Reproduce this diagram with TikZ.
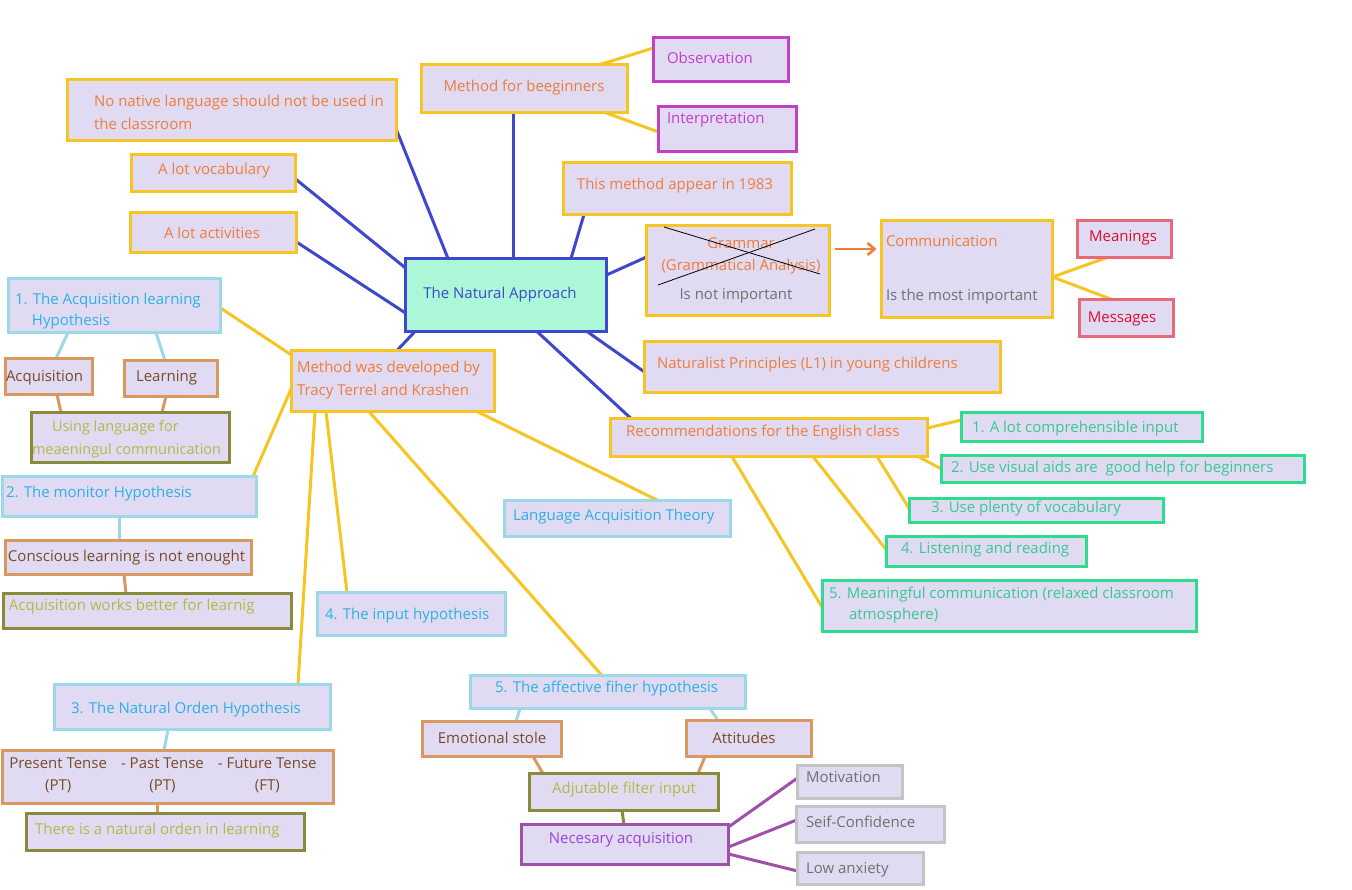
\documentclass[tikz,border=0pt]{standalone}
\usepackage{fontspec}
\setmainfont{Open Sans}
\usetikzlibrary{arrows.meta}
\definecolor{lav}{HTML}{E0DBF2}
\definecolor{yel}{HTML}{F7C523}
\definecolor{ora}{HTML}{F07C3A}
\definecolor{mag}{HTML}{C23FC6}
\definecolor{magt}{HTML}{C83CC8}
\definecolor{redb}{HTML}{E86A78}
\definecolor{redt}{HTML}{D8102C}
\definecolor{grb}{HTML}{2EDC8E}
\definecolor{grt}{HTML}{38C896}
\definecolor{lbb}{HTML}{9DD8E8}
\definecolor{lbt}{HTML}{2DB0E8}
\definecolor{tanb}{HTML}{D89860}
\definecolor{brt}{HTML}{7A4A28}
\definecolor{olb}{HTML}{8A8A3A}
\definecolor{olt}{HTML}{B4B846}
\definecolor{pub}{HTML}{A050A8}
\definecolor{put}{HTML}{A040D8}
\definecolor{gyb}{HTML}{C4C4C4}
\definecolor{gyt}{HTML}{707070}
\definecolor{blu}{HTML}{3F48CC}
\definecolor{mint}{HTML}{ABF7D8}
\pgfdeclarelayer{bg}
\pgfsetlayers{bg,main}
\newcommand\mkbox[6]{\node[bx,#6,minimum width={(#4-#2-3)*1pt},minimum height={(#5-#3-3)*1pt}] (#1) at ({(#2+#4)/2},{(#3+#5)/2}) {};}
\tikzset{
  bx/.style={rectangle, draw, line width=3pt, fill=lav, inner sep=0pt, outer sep=0pt},
  ybx/.style={draw=yel}, mbx/.style={draw=mag}, rbx/.style={draw=redb},
  gbx/.style={draw=grb}, lbx/.style={draw=lbb}, tbx/.style={draw=tanb},
  obx/.style={draw=olb}, pbx/.style={draw=pub}, gybx/.style={draw=gyb},
  cbx/.style={draw=blu, fill=mint},
  tx/.style={inner sep=0pt, outer sep=0pt, font=\fontsize{15}{22.5}\selectfont},
  sl/.style={text height=0.9em, text depth=0pt},
  ln/.style={line width=3pt},
}
\begin{document}
\begin{tikzpicture}[x=1pt,y=-1pt]
\useasboundingbox (0,0) rectangle (1352,889);
\begin{pgfonlayer}{bg}
\fill[white] (0,0) rectangle (1352,889);
\end{pgfonlayer}
% boxes
\mkbox{nn}{66}{78}{398}{142}{ybx}
\mkbox{voc}{130}{153}{297}{193}{ybx}
\mkbox{act}{129}{211}{298}{254}{ybx}
\mkbox{mb}{420}{63}{629}{114}{ybx}
\mkbox{obs}{652}{36}{790}{83}{mbx}
\mkbox{int}{657}{105}{798}{153}{mbx}
\mkbox{this}{562}{161}{793}{216}{ybx}
\mkbox{gram}{645}{224}{831}{317}{ybx}
\mkbox{comm}{880}{219}{1054}{319}{ybx}
\mkbox{mean}{1076}{219}{1173}{259}{rbx}
\mkbox{mess}{1078}{298}{1175}{338}{rbx}
\mkbox{cen}{404}{257}{608}{333}{cbx}
\mkbox{nat}{643}{340}{1002}{394}{ybx}
\mkbox{rec}{609}{417}{929}{458}{ybx}
\mkbox{g1}{960}{411}{1204}{443}{gbx}
\mkbox{g2}{940}{454}{1306}{484}{gbx}
\mkbox{g3}{908}{497}{1165}{524}{gbx}
\mkbox{g4}{885}{535}{1088}{568}{gbx}
\mkbox{g5}{821}{579}{1198}{633}{gbx}
\mkbox{lat}{503}{499}{732}{538}{lbx}
\mkbox{dev}{290}{349}{496}{413}{ybx}
\mkbox{acq1}{7}{277}{222}{334}{lbx}
\mkbox{acqn}{4}{357}{94}{396}{tbx}
\mkbox{lrn}{123}{359}{219}{398}{tbx}
\mkbox{use}{30}{411}{231}{464}{obx}
\mkbox{mon}{1}{475}{258}{518}{lbx}
\mkbox{cons}{4}{539}{253}{576}{tbx}
\mkbox{work}{2}{592}{293}{630}{obx}
\mkbox{inp}{316}{591}{507}{637}{lbx}
\mkbox{ord}{53}{683}{332}{731}{lbx}
\mkbox{pres}{1}{749}{335}{805}{tbx}
\mkbox{there}{25}{812}{306}{852}{obx}
\mkbox{aff}{469}{674}{747}{710}{lbx}
\mkbox{emo}{421}{720}{563}{758}{tbx}
\mkbox{att}{685}{719}{813}{758}{tbx}
\mkbox{adj}{528}{772}{720}{812}{obx}
\mkbox{nec}{520}{823}{730}{866}{pbx}
\mkbox{mot}{796}{764}{904}{800}{gybx}
\mkbox{seif}{795}{805}{946}{844}{gybx}
\mkbox{low}{796}{851}{925}{886}{gybx}
% texts
\node[tx,text=ora,anchor=north west,align=left] (tnn) at (94,95.5) {No native language should not be used in\\the classroom};
\node[tx,sl,text=ora] (tvoc) at (214,170) {A lot vocabulary};
\node[tx,sl,text=ora] (tact) at (212,234) {A lot activities};
\node[tx,sl,text=ora] (tmb) at (524,87) {Method for beeginners};
\node[tx,sl,text=ora] (tthis) at (675,185) {This method appear in 1983};
\node[tx,text=ora,anchor=north,align=center] (tgram) at (741,237.5) {Grammar\\(Grammatical Analysis)};
\node[tx,sl,text=gyt] (tgram2) at (736,295) {Is not important};
\node[tx,sl,text=ora,anchor=west] (tcomm) at (886,242) {Communication};
\node[tx,sl,text=gyt,anchor=west] (tcomm2) at (886,296) {Is the most important};
\node[tx,sl,text=ora,anchor=west] (tnat) at (657,364) {Naturalist Principles (L1) in young childrens};
\node[tx,sl,text=ora,anchor=west] (trec) at (626,432) {Recommendations for the English class};
\node[tx,text=ora,anchor=north west,align=left] (tdev) at (297,361.5) {Method was developed by\\Tracy Terrel and Krashen};
\node[tx,sl,text=magt,anchor=west] (tobs) at (667,59) {Observation};
\node[tx,sl,text=magt,anchor=west] (tint) at (667,119) {Interpretation};
\node[tx,sl,text=redt] (tmean) at (1123,237) {Meanings};
\node[tx,sl,text=redt] (tmess) at (1122,318) {Messages};
\node[tx,sl,text=blu] (tcen) at (500,294) {The Natural Approach};
\node[tx,sl,text=grt,anchor=west] (tg1) at (972,428) {1. A lot comprehensible input};
\node[tx,sl,text=grt,anchor=west] (tg2) at (951,468) {2. Use visual aids are~ good help for beginners};
\node[tx,sl,text=grt,anchor=west] (tg3) at (931,508) {3. Use plenty of vocabulary};
\node[tx,sl,text=grt,anchor=west] (tg4) at (901,549) {4. Listening and reading};
\node[tx,text=grt,anchor=north west,align=left,font=\fontsize{15}{21}\selectfont] (tg5) at (829,587.5) {5. Meaningful communication (relaxed classroom\\\hspace*{20pt}atmosphere)};
\node[tx,text=lbt,anchor=north west,align=left,font=\fontsize{15}{21}\selectfont] (tacq1) at (15,293.5) {1. The Acquisition learning\\\hspace*{17pt}Hypothesis};
\node[tx,sl,text=lbt,anchor=west] (tmon) at (6,493) {2. The monitor Hypothesis};
\node[tx,sl,text=lbt,anchor=west] (tinp) at (325,615) {4. The input hypothesis};
\node[tx,sl,text=lbt,anchor=west] (tlat) at (513,516) {Language Acquisition Theory};
\node[tx,sl,text=lbt,anchor=west] (tord) at (71,709) {3. The Natural Orden Hypothesis};
\node[tx,sl,text=lbt,anchor=west] (taff) at (495,688) {5. The affective fiher hypothesis};
\node[tx,sl,text=brt,anchor=west] (tacqn) at (6,377) {Acquisition};
\node[tx,sl,text=brt,anchor=west] (tlrn) at (136,377) {Learning};
\node[tx,sl,text=brt,anchor=west] (tcons) at (8,557) {Conscious learning is not enought};
\node[tx,text=brt] (tpres) at (163,775) {\begin{tabular}{@{}c@{\hspace{14pt}}c@{\hspace{14pt}}c@{}}Present Tense & - Past Tense & - Future Tense\\(PT) & (PT) & (FT)\end{tabular}};
\node[tx,sl,text=brt] (temo) at (492,739) {Emotional stole};
\node[tx,sl,text=brt] (tatt) at (744,739) {Attitudes};
\node[tx,text=olt,anchor=north west,align=left,font=\fontsize{14.5}{22.5}\selectfont] (tuse) at (32,420.5) {\hspace*{20pt}Using language for\\meaeningul communication};
\node[tx,sl,text=olt,anchor=west] (twork) at (9,606) {Acquisition works better for learnig};
\node[tx,sl,text=olt,anchor=west] (tthere) at (35,830) {There is a natural orden in learning};
\node[tx,sl,text=olt] (tadj) at (624,789) {Adjutable filter input};
\node[tx,sl,text=put] (tnec) at (621,839) {Necesary acquisition};
\node[tx,sl,text=gyt,anchor=west] (tmot) at (806,778) {Motivation};
\node[tx,sl,text=gyt,anchor=west] (tseif) at (806,823) {Seif-Confidence};
\node[tx,sl,text=gyt,anchor=west] (tlow) at (806,869) {Low anxiety};
% strike-through
\draw[black, line width=0.8pt] (664,227) -- (820,274);
\draw[black, line width=0.8pt] (815,229) -- (658,285);
% arrow
\draw[ora, line width=2.5pt, -{Straight Barb[length=7pt,width=12pt]}, shorten <=5pt, shorten >=5pt] (gram.east |- 0,249) -- (comm.west |- 0,249);
% connectors
\begin{pgfonlayer}{bg}
\begin{scope}[ln, blu]
\draw (448,0 |- cen.north) -- (nn.east |- 0,130);
\draw (cen.west |- 0,268) -- (voc.east |- 0,179);
\draw (cen.west |- 0,313) -- (act.east |- 0,242);
\draw (513,0 |- cen.north) -- (513,0 |- mb.south);
\draw (571,0 |- cen.north) -- (584,0 |- this.south);
\draw (cen.east |- 0,275) -- (gram.west |- 0,257);
\draw (587,0 |- cen.south) -- (nat.west |- 0,372);
\draw (537,0 |- cen.south) -- (631,0 |- rec.north);
\draw (415,0 |- cen.south) -- (397,0 |- dev.north);
\end{scope}
\begin{scope}[ln, yel]
\draw (600,0 |- mb.north) -- (obs.west |- 0,48);
\draw (605,0 |- mb.south) -- (int.west |- 0,132);
\draw (comm.east |- 0,277) -- (1107,0 |- mean.south);
\draw (comm.east |- 0,277) -- (1112,0 |- mess.north);
\draw (dev.west |- 0,355) -- (acq1.east |- 0,308);
\draw (dev.west |- 0,388) -- (253,0 |- mon.north);
\draw (315,0 |- dev.south) -- (298,0 |- ord.north);
\draw (326,0 |- dev.south) -- (347,0 |- inp.north);
\draw (369,0 |- dev.south) -- (602,0 |- aff.north);
\draw (477,0 |- dev.south) -- (658,0 |- lat.north);
\draw (rec.east |- 0,428) -- (g1.west |- 0,420);
\draw (918,0 |- rec.south) -- (g2.west |- 0,469);
\draw (877,0 |- rec.south) -- (g3.west |- 0,509);
\draw (813,0 |- rec.south) -- (g4.west |- 0,550);
\draw (732,0 |- rec.south) -- (g5.west |- 0,608);
\end{scope}
\begin{scope}[ln, lbb]
\draw (68,0 |- acq1.south) -- (56,0 |- acqn.north);
\draw (156,0 |- acq1.south) -- (165,0 |- lrn.north);
\draw (119,0 |- mon.south) -- (119,0 |- cons.north);
\draw (168,0 |- ord.south) -- (164,0 |- pres.north);
\draw (520,0 |- aff.south) -- (516,0 |- emo.north);
\draw (710,0 |- aff.south) -- (718,0 |- att.north);
\end{scope}
\begin{scope}[ln, tanb]
\draw (57,0 |- acqn.south) -- (61,0 |- use.north);
\draw (166,0 |- lrn.south) -- (162,0 |- use.north);
\draw (124,0 |- cons.south) -- (126,0 |- work.north);
\draw (157,0 |- pres.south) -- (157,0 |- there.north);
\draw (533,0 |- emo.south) -- (543,0 |- adj.north);
\draw (705,0 |- att.south) -- (698,0 |- adj.north);
\end{scope}
\draw[ln, olb] (622,0 |- adj.south) -- (624,0 |- nec.north);
\begin{scope}[ln, pub]
\draw (nec.east |- 0,827) -- (mot.west |- 0,778);
\draw (nec.east |- 0,847) -- (seif.west |- 0,820);
\draw (nec.east |- 0,854) -- (low.west |- 0,871);
\end{scope}
\end{pgfonlayer}
\end{tikzpicture}
\end{document}
